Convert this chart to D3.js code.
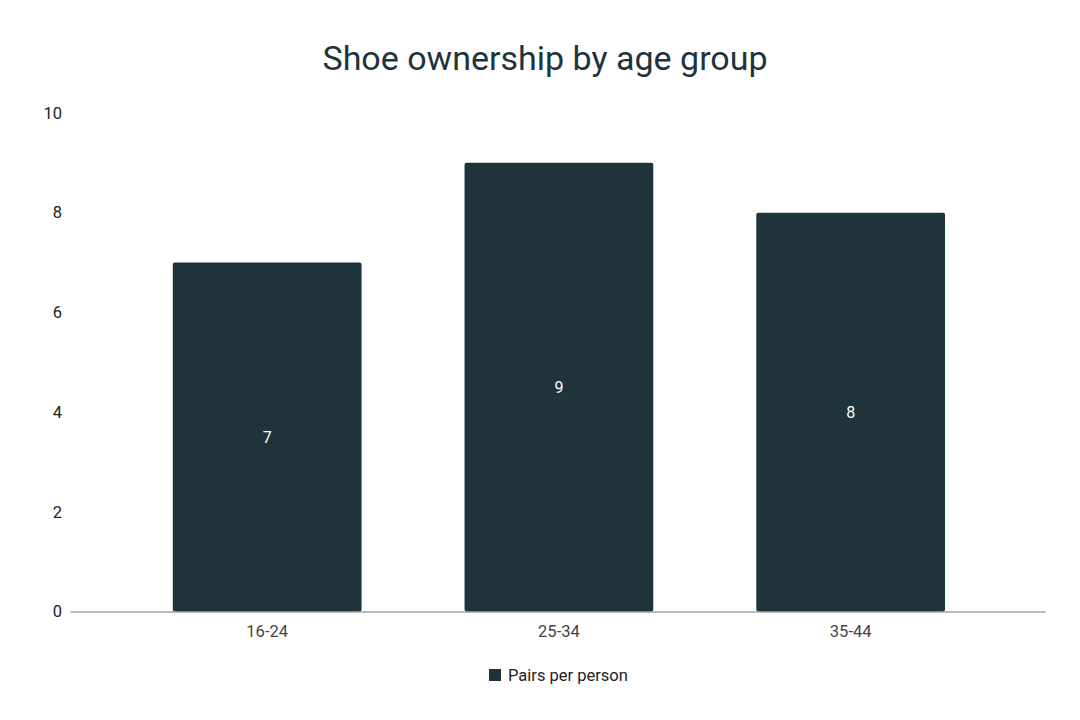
<!DOCTYPE html>
<html>
<head>
<meta charset="utf-8">
<script src="https://cdn.jsdelivr.net/npm/d3@7"></script>
<style>
  body { margin: 0; background: #fff; }
  text { font-family: Roboto, sans-serif; }
</style>
</head>
<body>
<div id="chart"></div>
<script>
// Data
var ageGroups = ["16-24", "25-34", "35-44"];
var pairsPerPerson = [7, 9, 8];
var yTicks = [0, 2, 4, 6, 8, 10];
var seriesName = "Pairs per person";
var chartTitle = "Shoe ownership by age group";

var svgWidth = 1080;
var svgHeight = 720;
var barColor = "#1e343a";

var svg = d3.select("#chart")
  .append("svg")
  .attr("width", svgWidth)
  .attr("height", svgHeight);

// Title
svg.append("text")
  .attr("x", 545)
  .attr("y", 70)
  .attr("text-anchor", "middle")
  .style("font-size", "34px")
  .style("fill", "#1e343a")
  .text(chartTitle);

// Scales
var xScale = d3.scaleBand()
  .domain(ageGroups)
  .range([70, 1045])
  .paddingInner(0.353)
  .paddingOuter(0.3475)
  .align(0.507);

var yScale = d3.scaleLinear()
  .domain([0, 10])
  .range([611.5, 113]);

// Y axis labels (no gridlines)
var yAxis = d3.axisLeft(yScale)
  .tickValues(yTicks)
  .tickSize(0)
  .tickPadding(0);

svg.append("g")
  .attr("transform", "translate(62, 0)")
  .call(yAxis)
  .call(g => g.select(".domain").remove())
  .selectAll("text")
  .style("font-family", "Roboto, sans-serif")
  .style("font-size", "16.5px")
  .style("fill", "#222");

// Bars
svg.selectAll(".bar")
  .data(pairsPerPerson)
  .enter()
  .append("rect")
  .classed("bar", true)
  .attr("x", (d, i) => xScale(ageGroups[i]))
  .attr("y", d => yScale(d))
  .attr("width", xScale.bandwidth())
  .attr("height", d => yScale(0) - yScale(d))
  .attr("rx", 2)
  .attr("fill", barColor);

// Value labels
svg.selectAll(".valueText")
  .data(pairsPerPerson)
  .enter()
  .append("text")
  .classed("valueText", true)
  .attr("x", (d, i) => xScale(ageGroups[i]) + xScale.bandwidth() / 2)
  .attr("y", d => yScale(d / 2))
  .attr("dy", "0.35em")
  .attr("text-anchor", "middle")
  .style("font-size", "16px")
  .style("fill", "#fff")
  .text(d => d);

// X axis
var xAxis = d3.axisBottom(xScale)
  .tickSize(0)
  .tickPadding(14);

var xg = svg.append("g")
  .attr("transform", `translate(0, ${yScale(0)})`)
  .call(xAxis);

xg.select(".domain")
  .attr("stroke", "#777")
  .attr("stroke-width", 1.2);

xg.selectAll("text")
  .style("font-family", "Roboto, sans-serif")
  .style("font-size", "16.5px")
  .style("fill", "#444");

// Legend
var legend = svg.append("g")
  .attr("transform", "translate(489, 675)");

legend.append("rect")
  .attr("x", 0)
  .attr("y", -6)
  .attr("width", 12)
  .attr("height", 12)
  .attr("fill", barColor);

legend.append("text")
  .attr("x", 19)
  .attr("y", 0)
  .attr("dy", "0.35em")
  .style("font-size", "16.5px")
  .style("fill", "#222")
  .text(seriesName);
</script>
</body>
</html>
